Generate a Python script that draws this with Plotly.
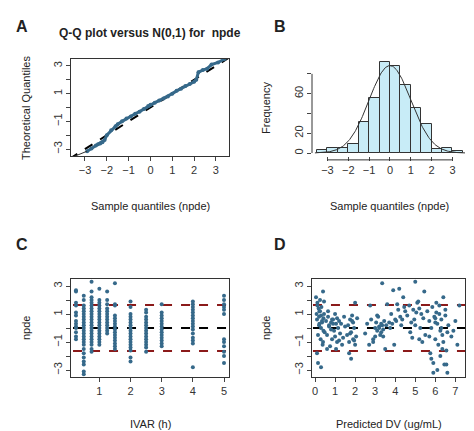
import numpy as np
import plotly.graph_objects as go
from plotly.subplots import make_subplots

# ---- Panel A: Q-Q
qq_sample = [-2.9,-2.7,-2.5,-2.4,-2.3,-2.2,-2.1,-2.0,-1.8,-1.6,-1.5,-1.3,-1.1,-0.9,-0.7,-0.5,-0.3,-0.1,0.0,0.2,0.4,0.6,0.8,1.0,1.2,1.4,1.6,1.8,2.0,2.1,2.2,2.4,2.6,2.8,3.1,3.4]
qq_theor  = [-3.15,-2.95,-2.75,-2.65,-2.6,-2.5,-2.35,-2.0,-1.65,-1.35,-1.2,-1.0,-0.8,-0.65,-0.45,-0.3,-0.1,0.1,0.2,0.35,0.5,0.65,0.8,1.0,1.2,1.35,1.55,1.7,1.85,2.0,2.55,2.7,2.8,3.1,3.25,3.5]

# ---- Panel B: histogram
bin_left = [-3.5,-3.0,-2.5,-2.0,-1.5,-1.0,-0.5,0.0,0.5,1.0,1.5,2.0,2.5,3.0]
bin_count = [3,5,5,9,31,56,92,88,69,45,29,4,5,2]

# ---- Panel C: npde vs IVAR
ivar_times = [0.25,0.5,0.75,1,1.25,1.5,2,2.5,3,4,5]
npde_by_time = [
    [2.7,2.6,1.8,1.6,1.1,0.9,0.5,0.3,0.1,0.0,-0.3,-0.6,-0.8],
    [2.3,2.0,1.6,1.4,1.2,1.0,0.8,0.6,0.4,0.2,0.0,-0.2,-0.4,-0.6,-0.8,-1.0,-1.2,-1.5,-1.8,-2.1,-2.4,-2.6,-3.1,-3.3],
    [3.3,2.6,2.2,2.0,1.8,1.6,1.4,1.2,1.0,0.8,0.6,0.4,0.2,0.0,-0.2,-0.4,-0.6,-0.8,-1.0,-1.2,-1.5,-1.7],
    [2.8,2.0,1.8,1.6,1.4,1.2,1.0,0.8,0.6,0.4,0.2,0.0,-0.2,-0.4,-0.6,-0.8,-1.0,-1.2],
    [2.6,2.0,1.7,1.4,1.2,1.0,0.8,0.6,0.4,0.2,0.0,-0.2,-0.4],
    [3.2,1.7,1.6,0.9,0.7,0.5,0.3,0.1,-0.1,-0.3,-0.5,-0.7,-0.9,-1.1,-1.3,-1.5],
    [1.9,1.5,1.0,0.8,0.6,0.4,0.2,0.0,-0.2,-0.4,-0.6,-0.8,-1.0,-1.2,-1.4,-1.6,-2.1,-2.4],
    [1.3,1.1,0.8,0.6,0.4,0.2,0.0,-0.2,-0.4,-0.6,-0.8,-1.0,-1.2,-1.4,-1.7],
    [1.7,1.1,0.9,0.7,0.5,0.3,0.1,-0.1,-0.3,-0.5,-0.7,-0.9,-1.1,-1.3],
    [1.9,1.7,1.5,1.3,1.1,0.9,0.7,0.5,0.3,0.1,-0.1,-0.4,-0.7,-0.9,-1.1,-2.8],
    [2.3,2.0,1.7,1.5,1.3,1.0,-0.8,-1.0,-1.3,-1.7,-2.0,-2.5],
]

# ---- Panel D: npde vs predicted DV
pred_dv = [0.05,0.08,0.1,0.12,0.15,0.18,0.2,0.22,0.25,0.28,0.3,0.32,0.35,0.38,0.4,0.42,0.45,0.48,0.1,0.15,0.2,0.25,0.3,0.35,0.4,0.45,0.12,0.22,0.3,0.42,
           0.55,0.6,0.65,0.7,0.75,0.8,0.85,0.9,0.95,1.0,1.05,1.1,1.15,1.2,1.25,0.6,0.7,0.8,0.9,1.0,1.1,1.2,0.65,0.85,1.05,1.3,1.4,1.5,1.45,1.35,
           1.6,1.65,1.7,1.75,1.8,1.85,1.9,1.95,2.0,2.05,1.7,1.8,1.9,2.0,1.85,1.75,1.95,2.1,
           2.5,2.6,2.7,2.8,2.9,3.0,3.05,3.1,3.15,3.2,3.25,3.3,3.35,3.4,3.45,3.5,3.55,3.6,3.0,3.1,3.2,3.3,3.35,2.9,3.4,2.75,
           3.7,3.8,3.9,4.0,4.1,4.2,4.3,4.4,4.5,3.75,3.95,4.05,4.25,4.45,3.85,4.15,4.35,
           4.6,4.7,4.8,4.9,5.0,5.1,5.2,5.3,5.4,5.5,4.75,4.95,5.05,5.15,5.25,5.35,5.45,4.85,5.0,5.2,
           5.6,5.7,5.75,5.8,5.85,5.9,5.95,6.0,6.05,6.1,6.15,6.2,6.25,6.3,6.35,6.4,6.45,6.5,6.55,6.6,6.65,5.7,5.9,6.0,6.1,6.2,6.3,6.4,6.5,6.6,5.8,6.05,6.35,6.55,6.0,6.25,
           6.8,6.9,7.0,7.1,7.2]
npde_dv = [2.2,1.0,0.6,1.8,-0.5,1.4,0.2,1.2,2.0,-0.8,0.9,1.5,0.4,-1.2,2.6,0.7,1.0,-0.3,-1.8,-2.5,0.8,1.2,-2.8,0.5,-1.0,1.9,1.6,0.3,0.0,-0.2,
          0.5,-0.5,0.8,0.2,-1.3,0.4,-0.8,0.6,-0.2,1.0,0.3,-1.0,0.0,0.5,-0.4,-1.5,0.1,-0.1,0.3,-0.6,0.7,-0.9,1.2,0.6,-1.5,0.3,-0.7,0.1,0.8,-1.2,
          -0.5,0.2,-1.0,0.6,-0.3,0.9,-0.8,0.0,1.8,-0.6,-1.8,-2.2,0.4,-1.2,0.5,-0.4,-0.9,0.7,
          -0.4,0.3,-1.2,0.6,-0.8,0.0,0.4,-0.2,0.8,0.1,-0.5,0.3,3.2,-0.1,0.5,-1.5,0.2,1.7,-0.6,0.9,0.0,-0.3,0.2,-1.0,-0.6,1.6,
          0.4,1.0,2.7,0.6,1.7,2.8,0.2,2.2,1.2,0.0,-1.2,0.5,0.8,1.5,0.3,1.3,0.6,
          0.9,1.6,0.4,1.3,3.3,1.8,-0.8,1.0,0.7,-0.5,-0.3,0.6,1.1,1.9,0.0,-1.0,2.6,-0.7,0.2,1.4,
          1.2,0.5,-1.8,0.0,1.5,-2.5,0.8,-0.8,1.8,0.3,-1.2,1.0,-2.0,0.6,-0.5,2.2,-2.6,0.9,-1.6,-3.2,0.2,-0.6,-3.2,0.4,-3.0,1.6,0.0,-1.0,1.3,-0.3,-2.2,1.1,-1.5,-2.6,0.7,-0.2,
          -0.6,-0.2,0.5,-1.2,1.6]

pt_color = "#36698a"
red_dash = "#8b1a1a"
font_fam = "Liberation Sans, Arial, sans-serif"

fig = go.Figure()
# domains
xA = [63/474, 221/474]; xB = [304/474, 457/474]
yTop = [1-148/431, 1-51/431]; yBot = [1-369/431, 1-271/431]

def ax(name, dom, rng, **kw):
    d = dict(domain=dom, range=rng, showgrid=False, zeroline=False, ticks="outside", ticklen=4,
             tickfont=dict(size=11, color="#333"), linecolor="#333", showline=True, mirror=True)
    d.update(kw)
    fig.layout[name] = d

yt = [-3,-2,-1,0,1,2,3]; ytt = ["\u22123","","\u22121","","1","","3"]
xt7 = [-3,-2,-1,0,1,2,3]; xtt7 = ["\u22123","\u22122","\u22121","0","1","2","3"]

# Panel A
fig.add_trace(go.Scatter(x=[-3.7,3.7], y=[-3.7,3.7], mode="lines", line=dict(color="black", dash="dash", width=2), xaxis="x", yaxis="y"))
fig.add_trace(go.Scatter(x=qq_sample, y=qq_theor, mode="lines+markers", line=dict(color=pt_color, width=3),
                         marker=dict(size=4, color=pt_color), xaxis="x", yaxis="y"))
fig.add_trace(go.Scatter(x=[-3.6,qq_sample[0]], y=[-3.6,qq_theor[0]], mode="lines", line=dict(color="#333", width=1), xaxis="x", yaxis="y"))
fig.add_trace(go.Scatter(x=[qq_sample[-1],3.6], y=[qq_theor[-1],3.6], mode="lines", line=dict(color="#333", width=1), xaxis="x", yaxis="y"))
ax("xaxis", xA, [-3.64,3.6], tickvals=xt7, ticktext=xtt7, anchor="y")
ax("yaxis", yTop, [-3.5,3.5], tickvals=yt, ticktext=ytt, tickangle=-90, anchor="x")

# Panel B
fig.add_trace(go.Bar(x=[b+0.25 for b in bin_left], y=bin_count, width=0.5, marker=dict(color="#c8ecf7", line=dict(color="#333", width=1)),
                     xaxis="x2", yaxis="y2"))
n = sum(bin_count)
cx = np.linspace(-3.6, 3.6, 200)
fig.add_trace(go.Scatter(x=cx, y=n*0.5*np.exp(-cx**2/2)/np.sqrt(2*np.pi), mode="lines", line=dict(color="#333", width=1), xaxis="x2", yaxis="y2"))
ax("xaxis2", xB, [-3.74,3.6], tickvals=xt7, ticktext=xtt7, anchor="y2", showline=False, mirror=False)
ax("yaxis2", yTop, [-3,95], tickvals=[0,20,40,60,80], ticktext=["0","20","","60",""], tickangle=-90, anchor="x2", showline=False, mirror=False)

# Panel C
cx_pts = [t for t, vals in zip(ivar_times, npde_by_time) for _ in vals]
cy_pts = [v for vals in npde_by_time for v in vals]
for xr, yr in [("x3","y3"),("x4","y4")]:
    for lv, col in [(-1.645, red_dash), (0, "black"), (1.645, red_dash)]:
        fig.add_trace(go.Scatter(x=[-1,9], y=[lv,lv], mode="lines", line=dict(color=col, dash="dash", width=2), xaxis=xr, yaxis=yr))
fig.add_trace(go.Scatter(x=cx_pts, y=cy_pts, mode="markers", marker=dict(size=4, color=pt_color), xaxis="x3", yaxis="y3"))
ax("xaxis3", xA, [0.09,5.16], tickvals=[1,2,3,4,5], anchor="y3")
ax("yaxis3", yBot, [-3.5,3.5], tickvals=yt, ticktext=ytt, tickangle=-90, anchor="x3")

# Panel D
fig.add_trace(go.Scatter(x=pred_dv, y=npde_dv, mode="markers", marker=dict(size=4, color=pt_color), xaxis="x4", yaxis="y4"))
ax("xaxis4", xB, [-0.15,7.48], tickvals=list(range(8)), anchor="y4")
ax("yaxis4", yBot, [-3.5,3.5], tickvals=yt, ticktext=ytt, tickangle=-90, anchor="x4")

shapes = [
    dict(type="line", xref="x2", yref="y2 domain", x0=-3, x1=3, y0=-0.04, y1=-0.04, line=dict(color="#333", width=1)),
    dict(type="line", xref="x2 domain", yref="y2", x0=0, x1=0, y0=0, y1=80, line=dict(color="#333", width=1)),
]
ann = []
def t(x, y, s, size=12, bold=False, angle=0):
    ann.append(dict(x=x/474, y=1-y/431, xref="paper", yref="paper", text=f"<b>{s}</b>" if bold else s, showarrow=False,
                    font=dict(size=size, color="#222", family=font_fam), textangle=angle, xanchor="center", yanchor="middle"))
t(14, 18, "A", 16, True); t(272, 18, "B", 16, True); t(14, 236, "C", 16, True); t(272, 236, "D", 16, True)
t(142, 25, "Q-Q plot versus N(0,1) for  npde", 12, True)
t(142, 198, "Sample quantiles (npde)", 11); t(381, 198, "Sample quantiles (npde)", 11)
t(142, 416, "IVAR (h)", 11); t(381, 416, "Predicted DV (ug/mL)", 11)
t(18, 100, "Theoretical Quantiles", 11, angle=-90); t(258, 100, "Frequency", 11, angle=-90)
t(18, 320, "npde", 11, angle=-90); t(258, 320, "npde", 11, angle=-90)

fig.update_layout(width=474, height=431, margin=dict(l=0, r=0, t=0, b=0), showlegend=False,
                  plot_bgcolor="white", paper_bgcolor="white", font=dict(family=font_fam),
                  shapes=shapes, annotations=ann, bargap=0)
fig.write_html("out.html")
